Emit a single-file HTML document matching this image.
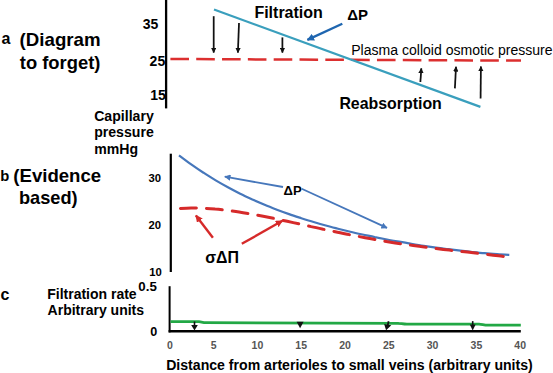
<!DOCTYPE html>
<html><head><meta charset="utf-8">
<style>
html,body{margin:0;padding:0;background:#fff;}
body{width:553px;height:373px;overflow:hidden;}
svg{display:block;}
text{font-family:"Liberation Sans",sans-serif;}
.b{font-weight:bold;}
</style></head><body>
<svg width="553" height="373" viewBox="0 0 553 373">
<defs>
<marker id="ak" viewBox="0 0 10 10" refX="9" refY="5" markerWidth="3.1" markerHeight="3.1" orient="auto" markerUnits="strokeWidth"><path d="M0,0 L10,5 L0,10 z" fill="#111"/></marker>
<marker id="ab" viewBox="0 0 10 10" refX="9" refY="5" markerWidth="3.5" markerHeight="3.5" orient="auto" markerUnits="strokeWidth"><path d="M0,0 L10,5 L0,10 z" fill="#4677bb"/></marker>
<marker id="ab2" viewBox="0 0 10 10" refX="9" refY="5" markerWidth="3.2" markerHeight="3.2" orient="auto" markerUnits="strokeWidth"><path d="M0,0 L10,5 L0,10 z" fill="#1f66b0"/></marker>
<marker id="ar" viewBox="0 0 10 10" refX="9" refY="5" markerWidth="3" markerHeight="3" orient="auto" markerUnits="strokeWidth"><path d="M0,0 L10,5 L0,10 z" fill="#d62a2a"/></marker>
</defs>
<rect width="553" height="373" fill="#fff"/>

<!-- ===== Panel a ===== -->
<text class="b" x="1.4" y="43.5" font-size="16">a</text>
<text class="b" x="19.6" y="45.6" font-size="18.2" textLength="81" lengthAdjust="spacingAndGlyphs">(Diagram</text>
<text class="b" x="19.8" y="68.6" font-size="18" textLength="80.6" lengthAdjust="spacingAndGlyphs">to forget)</text>

<line x1="166.1" y1="0" x2="166.1" y2="108.4" stroke="#000" stroke-width="2.3"/>
<text class="b" x="142.8" y="28.6" font-size="14">35</text>
<text class="b" x="149.6" y="65.6" font-size="14">25</text>
<text class="b" x="150.3" y="100.4" font-size="14">15</text>

<line x1="170.4" y1="59" x2="521" y2="60.6" stroke="#dc2f2f" stroke-width="2.5" stroke-dasharray="18.6 7.22"/>
<line x1="214" y1="9.5" x2="480.4" y2="106.9" stroke="#3a9fbd" stroke-width="2.3"/>

<!-- down arrows -->
<line x1="213.7" y1="16.2" x2="213.7" y2="52.6" stroke="#111" stroke-width="1.75" marker-end="url(#ak)"/>
<line x1="239" y1="23" x2="237.9" y2="52.6" stroke="#111" stroke-width="1.75" marker-end="url(#ak)"/>
<line x1="282.4" y1="37.4" x2="282.4" y2="52.6" stroke="#111" stroke-width="1.75" marker-end="url(#ak)"/>
<!-- up arrows -->
<line x1="420.4" y1="82" x2="421.3" y2="68.4" stroke="#111" stroke-width="1.75" marker-end="url(#ak)"/>
<line x1="454.9" y1="88.4" x2="456" y2="66.7" stroke="#111" stroke-width="1.75" marker-end="url(#ak)"/>
<line x1="480.6" y1="98.5" x2="480.9" y2="66.5" stroke="#111" stroke-width="1.75" marker-end="url(#ak)"/>

<text class="b" x="254.4" y="18.4" font-size="16">Filtration</text>
<text class="b" x="347.3" y="20" font-size="15">ΔP</text>
<line x1="342.3" y1="23.7" x2="307.4" y2="39.9" stroke="#1f66b0" stroke-width="2.3" marker-end="url(#ab2)"/>
<text x="351.2" y="55" font-size="14.05">Plasma colloid osmotic pressure</text>
<text class="b" x="339.4" y="109.3" font-size="15.9">Reabsorption</text>

<!-- Capillary pressure -->
<text class="b" x="94.2" y="120.5" font-size="14.1">Capillary</text>
<text class="b" x="94.2" y="137" font-size="14.1">pressure</text>
<text class="b" x="94.2" y="153.6" font-size="14.1">mmHg</text>

<!-- ===== Panel b ===== -->
<text class="b" x="0.3" y="181.3" font-size="14.8">b</text>
<text class="b" x="13.3" y="181.8" font-size="18.6">(Evidence</text>
<text class="b" x="19" y="204.2" font-size="18.2">based)</text>

<line x1="170.8" y1="153.7" x2="170.8" y2="272" stroke="#000" stroke-width="2.2"/>
<text class="b" x="148.5" y="182.4" font-size="11.3">30</text>
<text class="b" x="148.5" y="229.4" font-size="11.3">20</text>
<text class="b" x="149.2" y="276" font-size="11.3">10</text>

<path d="M179.0,155.3 C181.0,156.8 187.2,161.5 191.2,164.4 C195.3,167.3 199.4,170.1 203.5,172.7 C207.5,175.4 211.6,177.9 215.7,180.4 C219.8,182.8 223.9,185.1 227.9,187.3 C232.0,189.6 236.1,191.7 240.2,193.7 C244.2,195.7 248.3,197.6 252.4,199.5 C256.5,201.3 260.6,203.1 264.6,204.8 C268.7,206.5 272.8,208.1 276.9,209.7 C280.9,211.2 285.0,212.7 289.1,214.1 C293.2,215.6 297.3,216.9 301.3,218.2 C305.4,219.5 309.5,220.8 313.6,222.0 C317.6,223.2 321.7,224.4 325.8,225.5 C329.9,226.6 334.0,227.7 338.0,228.7 C342.1,229.7 346.2,230.7 350.3,231.7 C354.3,232.7 358.4,233.6 362.5,234.5 C366.6,235.4 370.7,236.2 374.7,237.1 C378.8,237.9 382.9,238.7 387.0,239.5 C391.0,240.3 395.1,241.0 399.2,241.7 C403.3,242.5 407.4,243.2 411.4,243.8 C415.5,244.5 419.6,245.2 423.7,245.8 C427.7,246.4 431.8,247.0 435.9,247.6 C440.0,248.2 444.1,248.7 448.1,249.2 C452.2,249.8 456.3,250.3 460.4,250.7 C464.4,251.2 468.5,251.7 472.6,252.1 C476.7,252.5 480.8,252.9 484.8,253.2 C488.9,253.6 493.0,253.9 497.1,254.2 C501.1,254.5 507.3,254.8 509.3,254.9" fill="none" stroke="#4677bb" stroke-width="2.2"/>
<path d="M179.1,208.5 C181.1,208.4 187.1,208.1 191.1,208.0 C195.1,208.0 199.1,208.1 203.1,208.3 C207.1,208.4 211.1,208.7 215.1,209.1 C219.1,209.4 223.1,209.9 227.1,210.4 C231.1,210.9 235.1,211.4 239.1,212.0 C243.1,212.7 247.1,213.3 251.1,214.1 C255.1,214.8 259.1,215.5 263.2,216.3 C267.2,217.1 271.2,217.9 275.2,218.7 C279.2,219.6 283.2,220.4 287.2,221.3 C291.2,222.2 295.2,223.0 299.2,223.9 C303.2,224.8 307.2,225.7 311.2,226.6 C315.2,227.4 319.2,228.3 323.2,229.2 C327.2,230.0 331.2,230.9 335.2,231.7 C339.2,232.6 343.2,233.4 347.2,234.2 C351.2,235.0 355.2,235.8 359.2,236.6 C363.2,237.3 367.2,238.1 371.2,238.8 C375.2,239.5 379.2,240.2 383.2,240.9 C387.2,241.6 391.2,242.2 395.2,242.9 C399.2,243.5 403.2,244.1 407.2,244.7 C411.2,245.2 415.2,245.8 419.2,246.3 C423.3,246.9 427.3,247.4 431.3,247.9 C435.3,248.4 439.3,248.9 443.3,249.4 C447.3,249.9 451.3,250.3 455.3,250.8 C459.3,251.2 463.3,251.7 467.3,252.1 C471.3,252.6 475.3,253.0 479.3,253.5 C483.3,253.9 487.3,254.4 491.3,254.9 C495.3,255.4 501.3,256.1 503.3,256.4" fill="none" stroke="#d62a2a" stroke-width="3" stroke-linecap="round" stroke-dasharray="15.8 10.12" stroke-dashoffset="-1.5"/>

<line x1="283" y1="187" x2="224.8" y2="176.7" stroke="#4677bb" stroke-width="1.8" marker-end="url(#ab)"/>
<line x1="301.7" y1="188.7" x2="387" y2="227.9" stroke="#4677bb" stroke-width="1.8" marker-end="url(#ab)"/>
<text class="b" x="283.5" y="194.9" font-size="13.1">ΔP</text>

<line x1="212.9" y1="237.8" x2="195.9" y2="215.4" stroke="#d62a2a" stroke-width="2.4" marker-end="url(#ar)"/>
<line x1="241.8" y1="243.8" x2="282.4" y2="220.8" stroke="#d62a2a" stroke-width="2.4" marker-end="url(#ar)"/>
<text class="b" x="205.2" y="263" font-size="15.9">σΔΠ</text>

<!-- ===== Panel c ===== -->
<text class="b" x="0.4" y="300.1" font-size="16">c</text>
<text class="b" x="47.2" y="298.5" font-size="14">Filtration rate</text>
<text class="b" x="47.6" y="314.8" font-size="14">Arbitrary units</text>

<text class="b" x="138.3" y="291" font-size="13.3">0.5</text>
<text class="b" x="150.2" y="336" font-size="12.6">0</text>

<line x1="169.6" y1="286.2" x2="169.6" y2="332.4" stroke="#000" stroke-width="2"/>
<line x1="168.6" y1="331.2" x2="520.8" y2="331.2" stroke="#000" stroke-width="2.4"/>
<path d="M170.5,321.7 L199,321.7 C201,321.8 203,322.6 206,322.6 L398,323.3 C401,323.4 403,324.2 407,324.2 L479,324.1 C482,324.2 484,325.1 488,325.2 L520.8,325.2" fill="none" stroke="#22a845" stroke-width="2.7"/>
<g fill="#111" stroke="#111">
<line x1="194.5" y1="321.5" x2="194.5" y2="326" stroke-width="1.6"/>
<path d="M191.2,325 L197.8,325 L194.5,330.4 z" stroke="none"/>
<path d="M296.6,321.7 L303.6,321.7 L300.1,328.3 z" stroke="none"/>
<line x1="388.6" y1="321.3" x2="387.7" y2="325.5" stroke-width="1.8"/>
<path d="M384.1,324.1 L391.3,325.3 L386.1,330.2 z" stroke="none"/>
<line x1="472.7" y1="321.1" x2="472.7" y2="325.5" stroke-width="1.6"/>
<path d="M469.8,324.4 L475.6,324.4 L472.7,330.4 z" stroke="none"/>
</g>
<g class="b" font-size="10.5" fill="#555" text-anchor="middle">
<text x="169.8" y="348.7">0</text>
<text x="213.6" y="348.7">5</text>
<text x="257.4" y="348.7">10</text>
<text x="301.2" y="348.7">15</text>
<text x="345" y="348.7">20</text>
<text x="388.8" y="348.7">25</text>
<text x="432.6" y="348.7">30</text>
<text x="476.4" y="348.7">35</text>
<text x="520.2" y="348.7">40</text>
</g>
<text class="b" x="166.2" y="370" font-size="14.1">Distance from arterioles to small veins (arbitrary units)</text>
</svg>
</body></html>
